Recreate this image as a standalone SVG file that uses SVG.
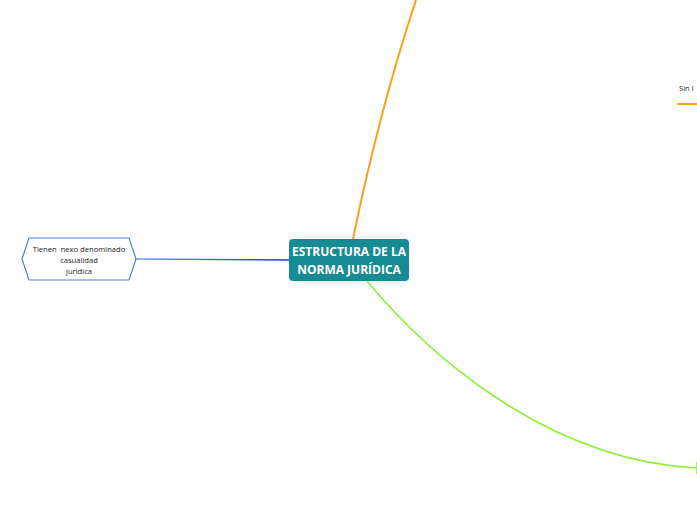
<svg xmlns="http://www.w3.org/2000/svg" width="697" height="520" viewBox="0 0 697 520">
<defs>
<linearGradient id="gb" x1="136" y1="0" x2="289" y2="0" gradientUnits="userSpaceOnUse">
<stop offset="0" stop-color="#6f9ef0"/>
<stop offset="1" stop-color="#1f3fc8"/>
</linearGradient>
</defs>
<style>
.t{font-family:"Open Sans","Liberation Sans",sans-serif}
.main{font-size:12px;font-weight:bold;fill:#ffffff}
.sub{font-size:7.6px;fill:#222222;white-space:pre}
</style>
<rect width="697" height="520" fill="#ffffff"/>
<g id="connectors" fill="none">
<path d="M353,239 Q379,112 416,0" stroke="#f7a01c" stroke-width="2"/>
<path d="M367,281 C420,345 540,460 697,468" stroke="#8ef03a" stroke-width="1.6"/>
<path d="M136,259 C200,259 240,260 289,260" stroke="url(#gb)" stroke-width="1.5"/>
<path d="M677,104 L697,104" stroke="#f7a01c" stroke-width="2"/>
<path d="M697,462 L697,474" stroke="#8ef03a" stroke-width="1.6"/>
</g>
<g id="node-main">
<rect x="289" y="239" width="120" height="42" rx="4" ry="4" fill="#168b94"/>
<text class="t main" x="349" y="256" text-anchor="middle">ESTRUCTURA DE LA</text>
<text class="t main" x="349" y="274" text-anchor="middle">NORMA JURÍDICA</text>
</g>
<g id="node-left">
<polygon points="22,259 29,238 129,238 136,259 129,280 29,280" fill="#ffffff" stroke="#4a7fd0" stroke-width="1.2"/>
<text class="t sub" x="79" y="252" text-anchor="middle" xml:space="preserve">Tienen  nexo denominado</text>
<text class="t sub" x="79" y="263" text-anchor="middle">casualidad</text>
<text class="t sub" x="79" y="274" text-anchor="middle">juridica</text>
</g>
<g id="node-right">
<text class="t sub" x="679" y="91">Sin i</text>
</g>
</svg>
